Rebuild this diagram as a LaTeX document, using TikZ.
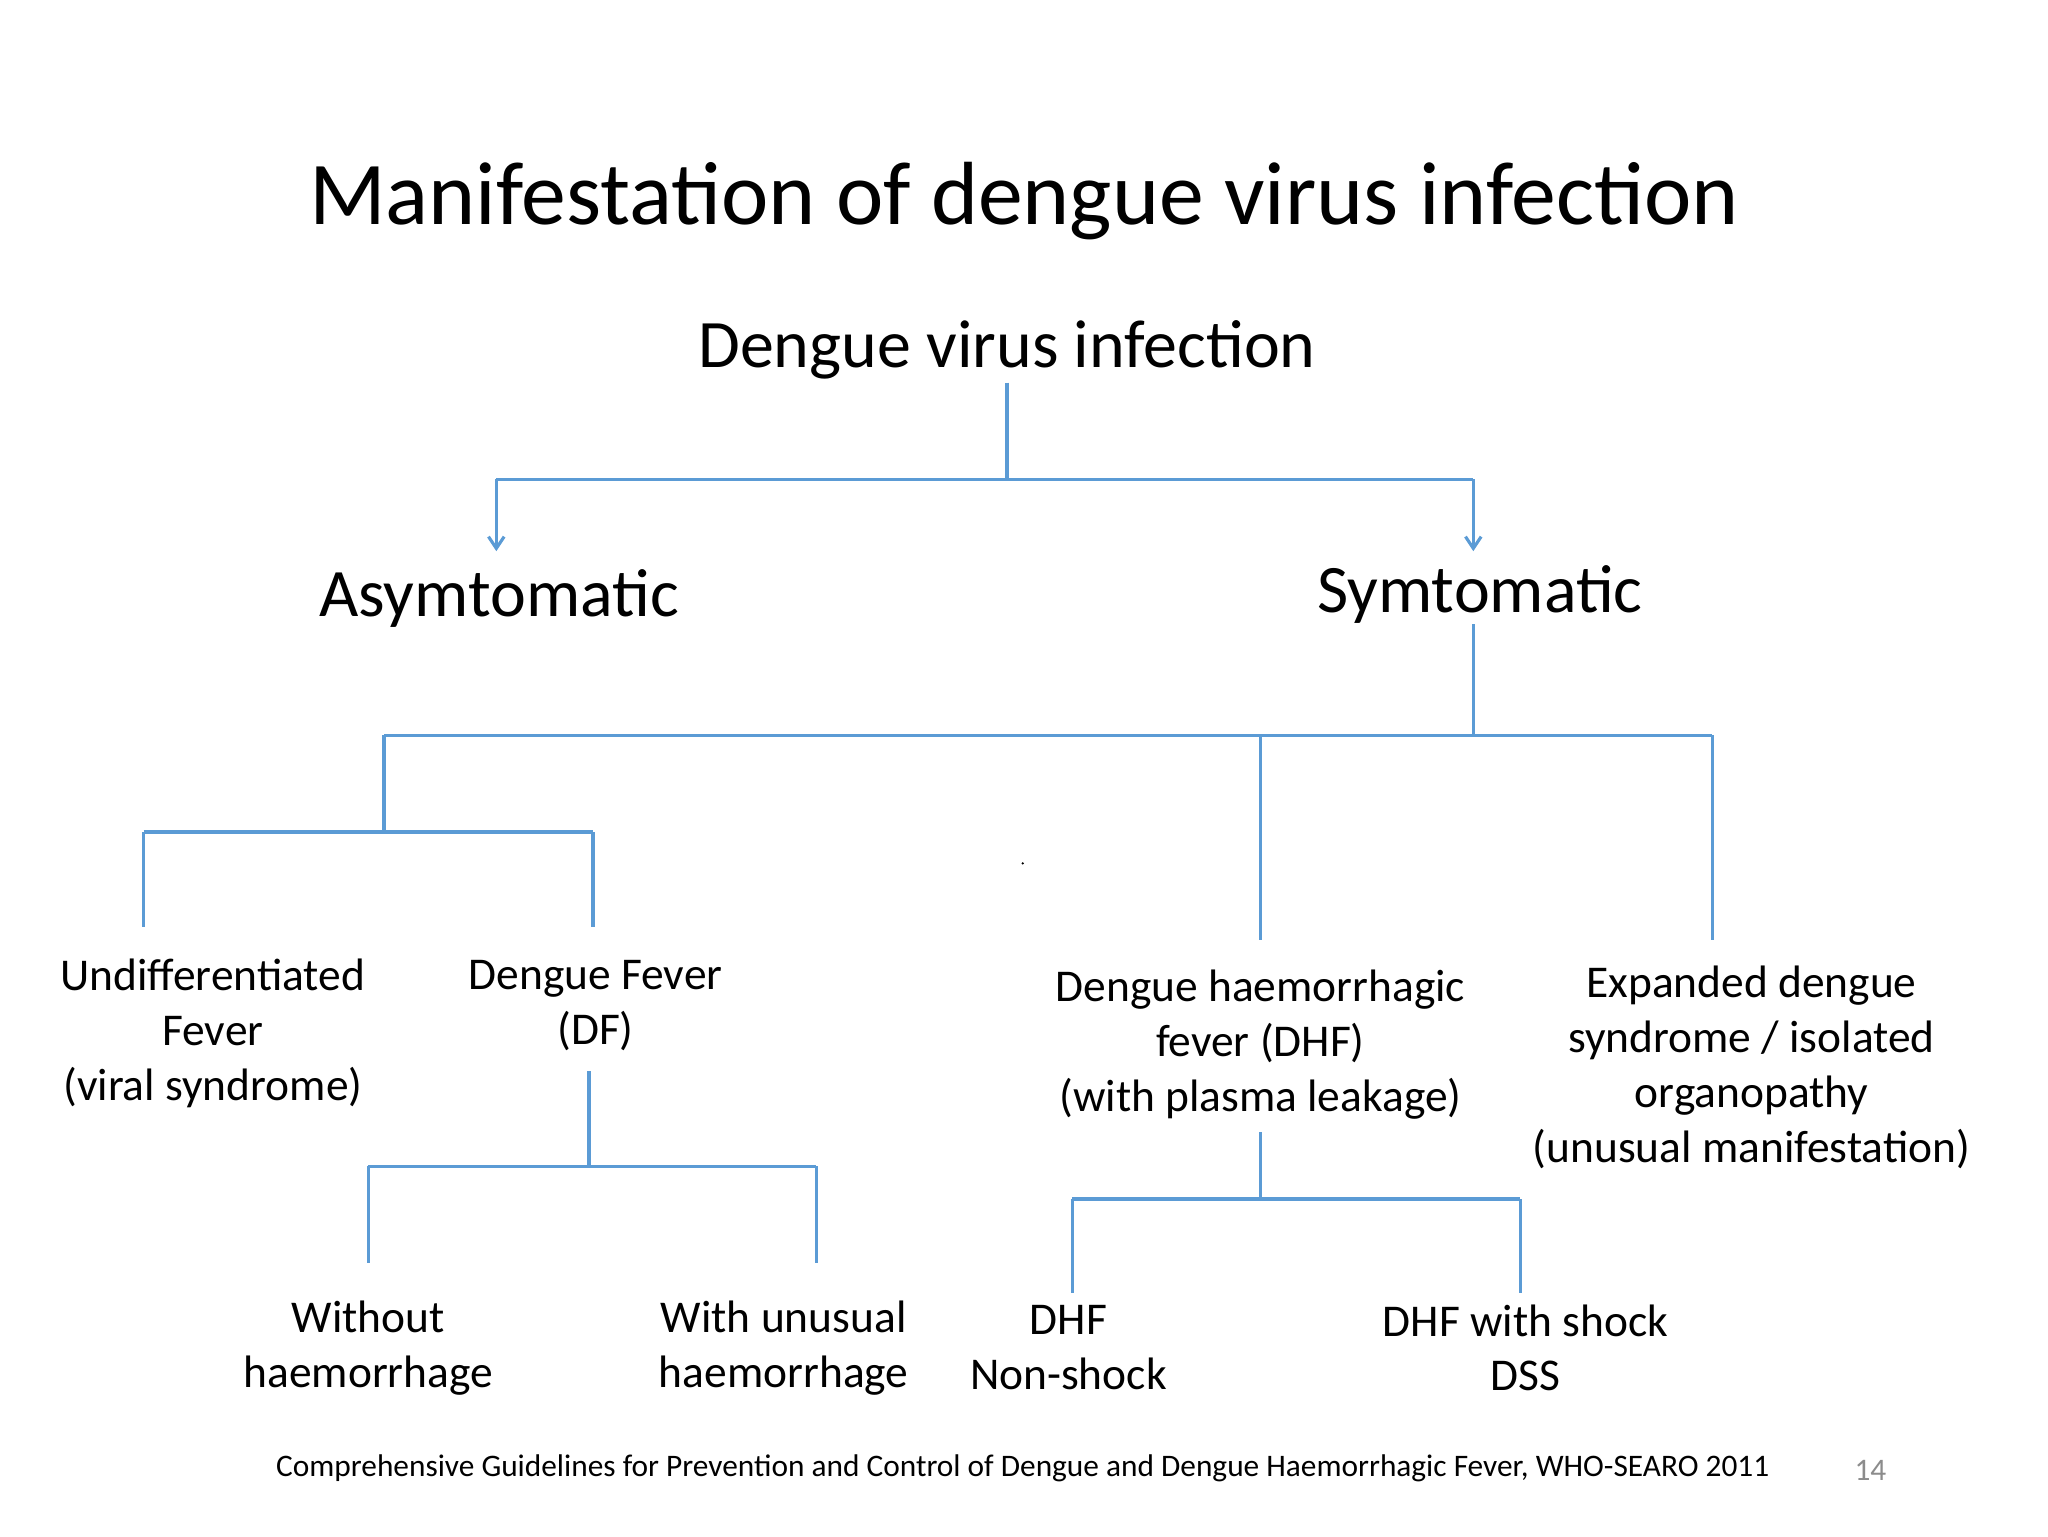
\documentclass[tikz,border=0pt]{standalone}
\usepackage{fontspec}
\setmainfont{Carlito}
\usetikzlibrary{arrows.meta}
\definecolor{lineblue}{HTML}{5B9BD5}
\definecolor{pagegray}{HTML}{8C8C8C}
\tikzset{
  conn/.style={draw=lineblue, line width=2.6pt},
  arr/.style={conn, -{Straight Barb[length=9pt,width=12pt,line width=2.4pt]}},
  titletext/.style={font=\fontsize{68.7}{76}\selectfont, inner sep=0pt},
  bigtext/.style={font=\fontsize{52}{58}\selectfont, inner sep=0pt},
  smalltext/.style={font=\fontsize{34.8}{42}\selectfont, align=center, inner sep=0pt},
  foottext/.style={font=\fontsize{24}{27}\selectfont, inner sep=0pt},
}
\begin{document}
\begin{tikzpicture}[x=1pt, y=-1pt]
\useasboundingbox (0,0) rectangle (1568,1176);
\fill[white] (0,0) rectangle (1568,1176);

\node[titletext] (title) at (784,154) {Manifestation of dengue virus infection};
\node[bigtext] (dvi) at (771,268) {Dengue virus infection};
\node[bigtext] (asym) at (382,458) {Asymtomatic};
\node[bigtext] (sym) at (1133,455) {Symtomatic};

\node[smalltext] (udf) at (163,791) {Undifferentiated\\Fever\\(viral syndrome)};
\node[smalltext] (df) at (456,770) {Dengue Fever\\(DF)};
\node[smalltext] (dhf) at (965,800) {Dengue haemorrhagic\\fever (DHF)\\(with plasma leakage)};
\node[smalltext] (eds) at (1341,817) {Expanded dengue\\syndrome / isolated\\organopathy\\(unusual manifestation)};
\node[smalltext] (woh) at (282,1032) {Without\\haemorrhage};
\node[smalltext] (wuh) at (600,1032) {With unusual\\haemorrhage};
\node[smalltext] (dns) at (818,1032) {DHF\\Non-shock};
\node[smalltext] (dss) at (1168,1032) {DHF with shock\\DSS};

\node[foottext] (foot) at (783,1124) {Comprehensive Guidelines for Prevention and Control of Dengue and Dengue Haemorrhagic Fever, WHO-SEARO 2011};
\node[foottext, text=pagegray] (page) at (1432,1126) {14};

% junction coordinates
\coordinate (dviB) at (771,293);
\coordinate (j1) at (771,367);
\coordinate (j1L) at (380,367);
\coordinate (j1R) at (1128,367);
\coordinate (asymT) at (380,422);
\coordinate (symT) at (1128,422);

\coordinate (symB) at (1128,478);
\coordinate (j2) at (1128,563);
\coordinate (j2L) at (294,563);
\coordinate (j2M) at (965,563);
\coordinate (j2R) at (1311,563);
\coordinate (dhfT) at (965,720);
\coordinate (edsT) at (1311,720);

\coordinate (j3) at (294,637);
\coordinate (j3L) at (110,637);
\coordinate (j3R) at (454,637);
\coordinate (udfT) at (110,710);
\coordinate (dfT) at (454,710);

\coordinate (dfB) at (451,820);
\coordinate (j4) at (451,893);
\coordinate (j4L) at (282,893);
\coordinate (j4R) at (625,893);
\coordinate (wohT) at (282,967);
\coordinate (wuhT) at (625,967);

\coordinate (dhfB) at (965,867);
\coordinate (j5) at (965,918);
\coordinate (j5L) at (821,918);
\coordinate (j5R) at (1164,918);
\coordinate (dnsT) at (821,990);
\coordinate (dssT) at (1164,990);

% connectors
\draw[conn] (dviB) -- (j1);
\draw[conn] (j1L) -- (j1R);
\draw[arr] (j1L) -- (asymT);
\draw[arr] (j1R) -- (symT);

\draw[conn] (symB) -- (j2);
\draw[conn] (j2L) -- (j2R);
\draw[conn] (j2M) -- (dhfT);
\draw[conn] (j2R) -- (edsT);
\draw[conn] (j2L) -- (j3);

\draw[conn] (j3L) -- (j3R);
\draw[conn] (j3L) -- (udfT);
\draw[conn] (j3R) -- (dfT);

\draw[conn] (dfB) -- (j4);
\draw[conn] (j4L) -- (j4R);
\draw[conn] (j4L) -- (wohT);
\draw[conn] (j4R) -- (wuhT);

\draw[conn] (dhfB) -- (j5);
\draw[conn] (j5L) -- (j5R);
\draw[conn] (j5L) -- (dnsT);
\draw[conn] (j5R) -- (dssT);

\fill[black] (783,661) circle (1pt);
\end{tikzpicture}
\end{document}
